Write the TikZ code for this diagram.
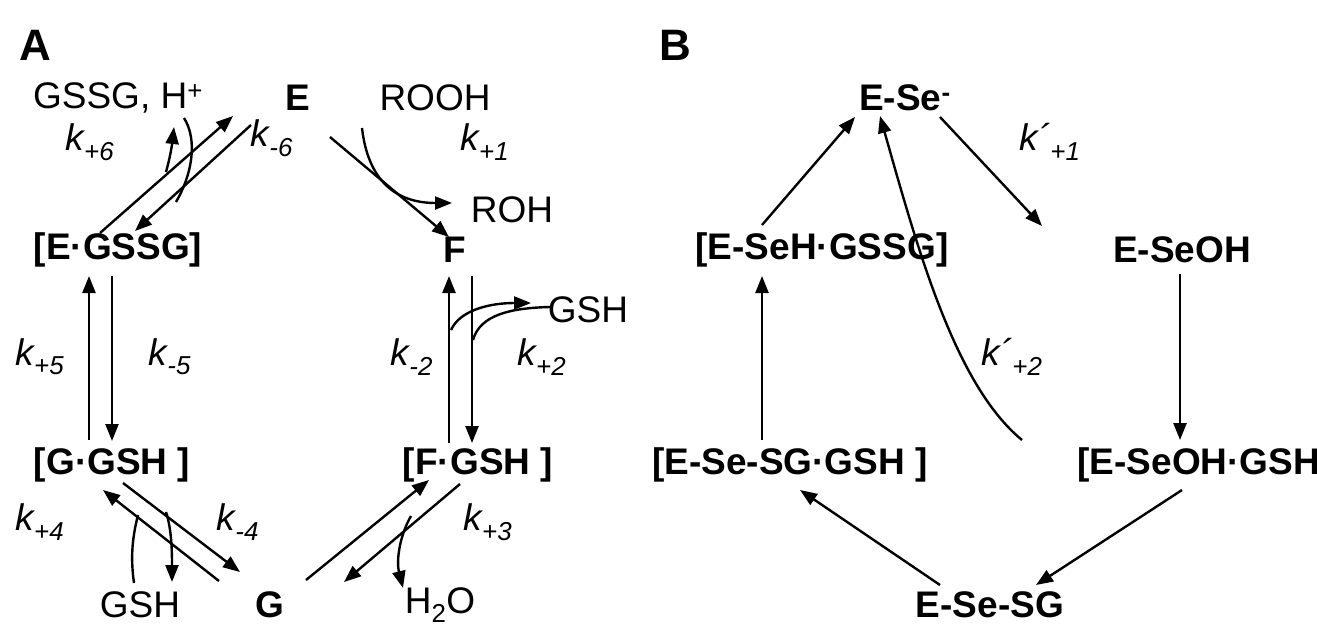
\documentclass[tikz,border=0pt]{standalone}
\usepackage{fontspec}
\setmainfont{Liberation Sans}
\usetikzlibrary{arrows.meta}
\begin{document}
\begin{tikzpicture}[x=1pt,y=-1pt,
  lbl/.style={font=\fontsize{37}{37}\selectfont,inner sep=0pt},
  bl/.style={font=\fontsize{37}{37}\selectfont\bfseries,inner sep=0pt},
  kk/.style={font=\fontsize{37}{37}\selectfont\itshape,inner sep=0pt},
  pan/.style={font=\fontsize{44}{44}\selectfont\bfseries,inner sep=0pt},
  ar/.style={line width=2.4pt,-{Triangle[length=17pt,width=13pt]}},
  ln/.style={line width=2.4pt}]
\useasboundingbox (0,0) rectangle (1317,637);
% Panel A
\node[pan] (pA) at (35,45) {A};
\node[lbl] (gssg) at (118,98) {GSSG, H\textsuperscript{+}};
\node[bl] (E) at (298,98) {E};
\node[lbl] (rooh) at (435,98) {ROOH};
\node[kk] (k6p) at (90,142) {k\textsubscript{+6}};
\node[kk] (k6m) at (272,138) {k\textsubscript{-6}};
\node[kk] (k1p) at (485,142) {k\textsubscript{+1}};
\node[lbl] (roh) at (512,210) {ROH};
\node[bl] (EG) at (118,250) {[E·GSSG]};
\node[bl] (F) at (455,250) {F};
\node[lbl] (gsh1) at (588,310) {GSH};
\node[kk] (k5p) at (40,357) {k\textsubscript{+5}};
\node[kk] (k5m) at (170,357) {k\textsubscript{-5}};
\node[kk] (k2m) at (412,357) {k\textsubscript{-2}};
\node[kk] (k2p) at (542,357) {k\textsubscript{+2}};
\node[bl] (GG) at (112,465) {[G·GSH ]};
\node[bl] (FG) at (478,465) {[F·GSH ]};
\node[kk] (k4p) at (40,522) {k\textsubscript{+4}};
\node[kk] (k4m) at (238,522) {k\textsubscript{-4}};
\node[kk] (k3p) at (488,522) {k\textsubscript{+3}};
\node[lbl] (gsh2) at (140,605) {GSH};
\node[bl] (G) at (270,605) {G};
\node[lbl] (h2o) at (440,605) {H\textsubscript{2}O};
% E <-> [E.GSSG]
\draw[ar] (100,233) -- (233,116);
\draw[ar] (251,125) -- (135,231);
\draw[ar] (166,172) .. controls (170,158) and (172,145) .. (174,127);
\draw[ln] (184,118) .. controls (198,140) and (192,175) .. (176,202);
% E -> F
\draw[ar] (330,137) -- (449,237);
\draw[ar] (362,128) .. controls (368,180) and (395,203) .. (452,203);
% F <-> [F.GSH]
\draw[ar] (449,443) -- (449,276);
\draw[ar] (472,276) -- (472,443);
\draw[ar] (451,330) .. controls (460,310) and (490,303) .. (531,303);
\draw[ln] (550,307) .. controls (510,308) and (480,315) .. (473,340);
% [E.GSSG] <-> [G.GSH]
\draw[ar] (89,440) -- (89,276);
\draw[ar] (112,276) -- (112,441);
% [G.GSH] <-> G
\draw[ar] (123,483) -- (240,572);
\draw[ar] (219,581) -- (103,490);
\draw[ln] (134,583) .. controls (130,555) and (133,535) .. (138,515);
\draw[ar] (166,512) .. controls (172,530) and (172,555) .. (172,582);
% G <-> [F.GSH]
\draw[ar] (306,580) -- (429,480);
\draw[ar] (460,484) -- (344,582);
\draw[ar] (411,516) .. controls (400,535) and (396,560) .. (403,588);
% Panel B
\node[pan] (pB) at (675,45) {B};
\node[bl] (Ese) at (905,98) {E-Se\textsuperscript{-}};
\node[kk] (k1b) at (1050,142) {k´\textsubscript{+1}};
\node[bl] (ESH) at (822,250) {[E-SeH·GSSG]};
\node[bl] (ESOH) at (1182,250) {E-SeOH};
\node[kk] (k2b) at (1012,357) {k´\textsubscript{+2}};
\node[bl] (ESSG) at (790,465) {[E-Se-SG·GSH ]};
\node[bl] (ESOHG) at (1205,465) {[E-SeOH·GSH]};
\node[bl] (ESG) at (990,605) {E-Se-SG};
\draw[ar] (762,225) -- (855,117);
\draw[ar] (940,117) -- (1042,226);
\draw[ar] (1180,274) -- (1180,440);
\draw[ar] (1182,490) -- (1036,585);
\draw[ar] (940,585) -- (800,490);
\draw[ar] (762,440) -- (762,276);
\draw[ar] (1022,440) .. controls (955,385) and (918,250) .. (880,116);
\end{tikzpicture}
\end{document}
